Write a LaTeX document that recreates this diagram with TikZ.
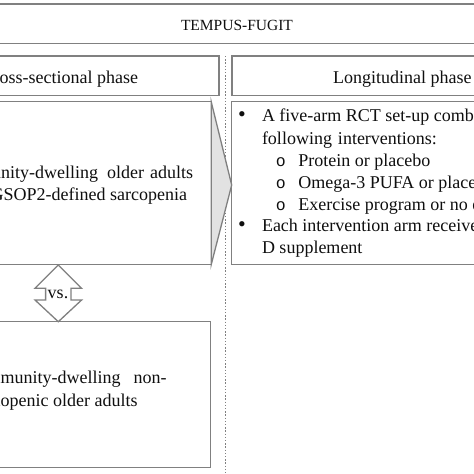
\documentclass[tikz,border=0pt]{standalone}
\usepackage{fontspec}
\setmainfont{Liberation Serif}
\newfontfamily\subbulletfont{Liberation Mono}
\definecolor{bordergray}{RGB}{128,128,128}
\definecolor{txt}{RGB}{15,15,15}
\definecolor{arrowfill}{RGB}{226,226,226}
\begin{document}
\begin{tikzpicture}[x=1pt,y=-1pt,
  box/.style={draw=bordergray, line width=1.3pt, fill=white, inner sep=0pt, outer sep=0pt, anchor=north west},
  shapeline/.style={draw=bordergray, line width=1.3pt, line join=miter},
  lbl/.style={inner sep=0pt, outer sep=0pt, text=txt, font=\fontsize{18}{22}\selectfont},
  titlelbl/.style={inner sep=0pt, outer sep=0pt, text=txt, font=\fontsize{15.5}{18}\selectfont},
  bulletlbl/.style={inner sep=0pt, outer sep=0pt, text=txt, font=\fontsize{22}{24}\selectfont},
  subbulletlbl/.style={inner sep=0pt, outer sep=0pt, text=txt, font=\subbulletfont\fontsize{16.5}{18}\selectfont},
  divider/.style={draw=bordergray, line width=1.2pt, dash pattern=on 1.3pt off 1.9pt}
]
\useasboundingbox (0,0) rectangle (474,474);
\clip (0,0) rectangle (474,474);
\fill[white] (0,0) rectangle (474,474);

% boxes
\node[box, minimum width=494pt, minimum height=39.5pt] (top) at (-10,4) {};
\node[box, minimum width=229pt, minimum height=39.5pt] (crossph) at (-10,56) {};
\node[box, minimum width=252pt, minimum height=39.5pt] (longph) at (232,56) {};
\node[box, minimum width=221.2pt, minimum height=163pt] (sarc) at (-10,101.7) {};
\node[box, minimum width=252.3pt, minimum height=162.6pt] (rct) at (231.7,101.7) {};
\node[box, minimum width=220.7pt, minimum height=146pt] (nonsarc) at (-10,321.7) {};

% divider
\coordinate (divtop) at (225.5,56);
\coordinate (divbot) at (225.5,480);
\draw[divider] (divtop) -- (divbot);

% arrow head of the sarcopenia box
\coordinate (tip) at (231.7,185);
\filldraw[shapeline, fill=arrowfill] (sarc.north east) -- (tip) -- (sarc.south east) -- cycle;
\draw[shapeline] (sarc.north east) -- (sarc.south east);

% double arrow vs.
\coordinate (vtop) at (58.3,265);
\coordinate (vbot) at (58.3,321.7);
\filldraw[shapeline, fill=white] (vtop) -- (81.6,288.3) -- (71,288.3) -- (71,300) -- (81.6,300)
  -- (vbot) -- (35,300) -- (45.6,300) -- (45.6,288.3) -- (35,288.3) -- cycle;
\node[lbl, anchor=base] (vs) at (58,298) {vs.};

% texts
\node[titlelbl, anchor=base] (title) at (237,30.7) {TEMPUS-FUGIT};
\node[lbl, anchor=base east] (crosstxt) at (138,83) {Cross-sectional phase};
\node[lbl, anchor=base west] (longtxt) at (333,83) {Longitudinal phase};

\node[lbl, anchor=base east] (sarc1) at (193,178) {Community-dwelling\hspace{9pt}older\hspace{6pt}adults};
\node[lbl, anchor=base east] (sarc2) at (187,200) {with EWGSOP2-defined sarcopenia};

\node[lbl, anchor=base east] (non1) at (166.7,383.3) {Community-dwelling\hspace{13pt}non-};
\node[lbl, anchor=base east] (non2) at (137.7,406) {sarcopenic older adults};

\node[bulletlbl, anchor=center] (b1) at (242,116.7) {•};
\node[lbl, anchor=base west] (r1) at (262,121.7) {A five-arm RCT set-up combining the};
\node[lbl, anchor=base west] (r2) at (262,144) {following\hspace{6pt}interventions:};
\node[subbulletlbl, anchor=base] (s1) at (280.7,166.7) {o};
\node[lbl, anchor=base west] (r3) at (298.3,166.7) {Protein or placebo};
\node[subbulletlbl, anchor=base] (s2) at (280.7,188.5) {o};
\node[lbl, anchor=base west] (r4) at (298.3,188.5) {Omega-3 PUFA or placebo};
\node[subbulletlbl, anchor=base] (s3) at (280.7,210) {o};
\node[lbl, anchor=base west] (r5) at (298.3,210) {Exercise program or no exercise};
\node[bulletlbl, anchor=center] (b2) at (242,226.7) {•};
\node[lbl, anchor=base west] (r6) at (262,231.7) {Each intervention arm receives a vitamin};
\node[lbl, anchor=base west] (r7) at (262,253.3) {D supplement};
\end{tikzpicture}
\end{document}
